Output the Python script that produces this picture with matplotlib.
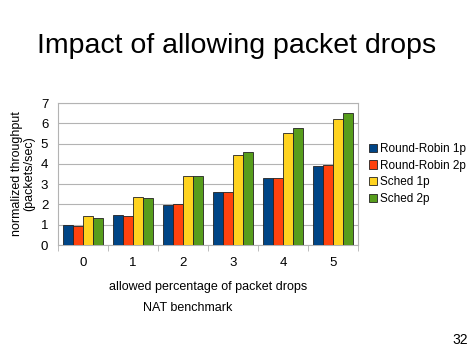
import numpy as np
import matplotlib.pyplot as plt

plt.rcParams['font.family'] = ['Liberation Sans', 'DejaVu Sans']

# datos
categorias = ['0', '1', '2', '3', '4', '5']
series = ['Round-Robin 1p', 'Round-Robin 2p', 'Sched 1p', 'Sched 2p']
rr_1p = [1.00, 1.48, 1.98, 2.60, 3.28, 3.89]
rr_2p = [0.96, 1.45, 2.01, 2.60, 3.28, 3.95]
sched_1p = [1.42, 2.37, 3.38, 4.42, 5.54, 6.21]
sched_2p = [1.32, 2.34, 3.38, 4.56, 5.75, 6.51]
colores = ['#004586', '#ff420e', '#ffd320', '#579d1c']

fig = plt.figure(figsize=(4.74, 3.55), dpi=100)
ax = fig.add_axes([58 / 474, 1 - 245 / 355, 300 / 474, 142 / 355])

x = np.arange(len(categorias))
ancho = 0.2
valores = [rr_1p, rr_2p, sched_1p, sched_2p]
for i, (vals, nombre, col) in enumerate(zip(valores, series, colores)):
    ax.bar(x + (i - 1.5) * ancho, vals, ancho, color=col, edgecolor='#222222',
           linewidth=0.6, label=nombre, zorder=3)

ax.set_xlim(-0.5, len(categorias) - 0.5)
ax.set_ylim(0, 7)
ax.set_yticks(range(8))
ax.set_xticks(x)
ax.set_xticklabels(categorias)
ax.set_xticks(np.arange(-0.5, len(categorias)), minor=True)
ax.tick_params(axis='x', which='major', length=0, pad=9, labelsize=9.5)
ax.tick_params(axis='x', which='minor', length=4, color='#b3b3b3')
ax.tick_params(axis='y', length=0, pad=7, labelsize=9.5)
ax.grid(axis='y', color='#b3b3b3', linewidth=0.8, zorder=0)
for s in ax.spines.values():
    s.set_color('#b3b3b3')

ax.set_ylabel('normalized throughput\n(packets/sec)', fontsize=9, labelpad=4, linespacing=1.0)
ax.set_xlabel('allowed percentage of packet drops', fontsize=9, labelpad=8)

ax.legend(loc='center left', bbox_to_anchor=(1.0, 0.5), frameon=False, fontsize=8.5,
          handlelength=0.7, handleheight=0.7, handletextpad=0.3, labelspacing=0.4)

fig.text(0.5, 1 - 46 / 355, 'Impact of allowing packet drops', ha='center', va='center', fontsize=20.5)
fig.text(188 / 474, 1 - 308 / 355, 'NAT benchmark', ha='center', va='center', fontsize=9)
fig.text(452 / 474, 1 - 340 / 355, '32', ha='left', va='center', fontsize=10)

fig.savefig('out.png', dpi=100)
